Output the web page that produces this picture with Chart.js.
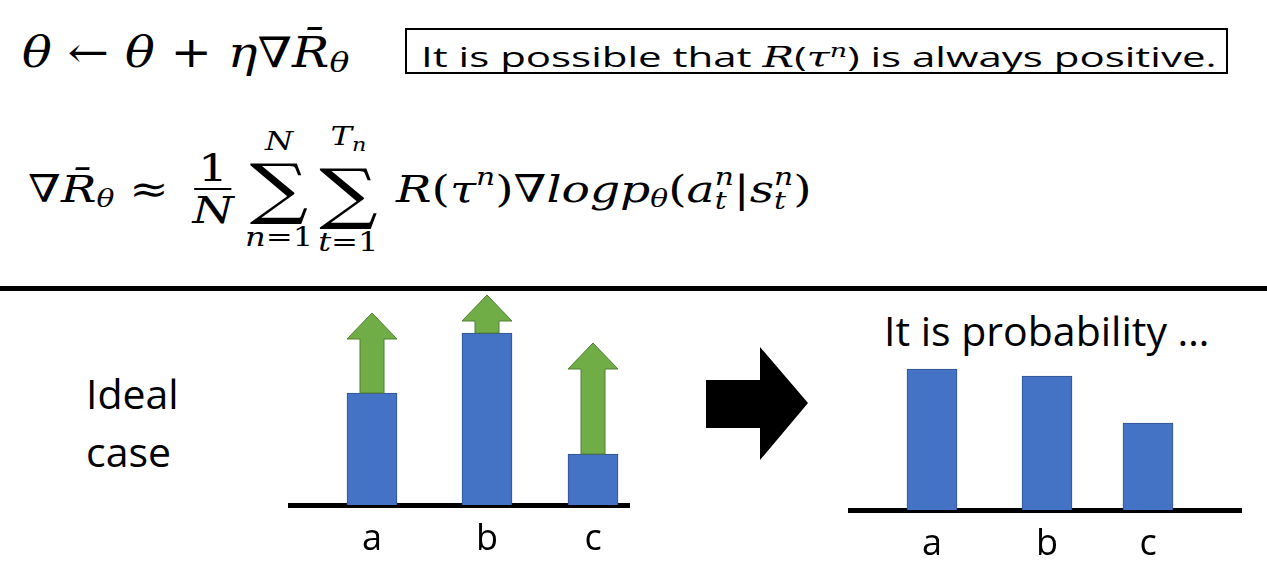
<!DOCTYPE html>
<html><head><meta charset="utf-8">
<script src="https://cdn.jsdelivr.net/npm/chart.js@4"></script>
<style>
body{margin:0;width:1267px;height:567px;background:#fff;position:relative;overflow:hidden;font-family:"Open Sans",sans-serif}
.m{font-family:"DejaVu Serif",serif;font-style:italic;position:absolute;white-space:nowrap;display:flex;align-items:center;transform-origin:left center}
.up{font-style:normal}
.sum{display:inline-flex;flex-direction:column;align-items:center;margin:0 2px}
.sum .s{font-size:66px;font-style:normal;line-height:64px}
.sum .l{font-size:26px;line-height:32px}
.frac{display:inline-flex;flex-direction:column;align-items:center;margin:0 4px}
.frac span{line-height:40px;padding:0 3px}
.frac .n{border-bottom:2px solid #000}
.box{position:absolute;left:405px;top:28px;width:819px;height:42px;border:2px solid #000}
.bt{position:absolute;left:14px;top:0;font-size:28px;line-height:42px;white-space:nowrap;transform:scaleX(1.5);transform-origin:left center}
.t{position:absolute;font-size:41px;color:#000}
canvas{position:absolute}
sub,sup{font-size:24px}
</style></head><body>
<div class="m" style="left:22px;top:24px;font-size:42px;height:56px;transform:scaleX(1.18)">θ&nbsp;<span class="up">←</span>&nbsp;θ&nbsp;<span class="up">+</span>&nbsp;η<span class="up">∇</span>R̄<sub style="font-size:28px;position:relative;top:10px">θ</sub></div>
<div class="box"><div class="bt">It is possible that <span style="font-family:'DejaVu Serif';font-style:italic">R</span>(<span style="font-family:'DejaVu Serif';font-style:italic">τ<sup style="font-size:18px">n</sup></span>) is always positive.</div></div>
<div class="m" style="left:28px;top:104px;font-size:38px;height:170px;transform:scaleX(1.24)"><span class="up">∇</span>R̄<sub style="position:relative;top:10px">θ</sub>&nbsp;<span class="up">≈</span>&nbsp;<span class="frac"><span class="n up">1</span><span>N</span></span><span class="sum"><span class="l">N</span><span class="s">∑</span><span class="l">n<span class="up">=1</span></span></span><span class="sum"><span class="l">T<sub style="font-size:18px">n</sub></span><span class="s">∑</span><span class="l">t<span class="up">=1</span></span></span>&nbsp;R<span class="up">(</span>τ<sup style="position:relative;top:-12px">n</sup><span class="up">)∇</span>logp<sub style="position:relative;top:10px">θ</sub><span class="up">(</span>a<span style="display:inline-flex;flex-direction:column;font-size:24px;line-height:24px"><span>n</span><span>t</span></span><span class="up">|</span>s<span style="display:inline-flex;flex-direction:column;font-size:24px;line-height:24px"><span>n</span><span>t</span></span><span class="up">)</span></div>
<div style="position:absolute;left:0;top:286px;width:1267px;height:5px;background:#000"></div>
<div class="t" style="left:86px;top:364px;line-height:58px">Ideal<br>case</div>
<div class="t" style="left:884px;top:302px">It is probability …</div>
<svg style="position:absolute;left:0;top:0" width="1267" height="567"><polygon points="706,380 760,380 760,347 808,403 760,460 760,428 706,428" fill="#000"/></svg>
<canvas id="c1" style="left:288px;top:294px" width="342" height="273"></canvas>
<canvas id="c2" style="left:848px;top:299px" width="394" height="268"></canvas>
<script>
const categories=["a","b","c"];
const idealValues=[112,172,51];
const idealArrows=[80,38,111];
const probValues=[141,134,87];
const leftX=[84,199,305];
const rightX=[84,199,300];
const arrowPlugin={id:'arrows',afterDatasetsDraw(ch){
 const ctx=ch.ctx,xs=ch.scales.x,ys=ch.scales.y;
 const arr=ch.options.plugins.arrows.values;
 ctx.save();ctx.fillStyle='#000';ctx.font='36px "Open Sans"';ctx.textAlign='center';ctx.textBaseline='middle';
 ch.data.datasets[0].data.forEach((d,i)=>ctx.fillText(categories[i],xs.getPixelForValue(d.x),ys.getPixelForValue(0)+35));
 ctx.restore();
 if(!arr)return;
 ch.data.datasets[0].data.forEach((d,i)=>{
  const cx=xs.getPixelForValue(d.x),y0=ys.getPixelForValue(d.y),y1=ys.getPixelForValue(d.y+arr[i]);
  const hw=12,HW=25,hh=26;
  ctx.beginPath();ctx.moveTo(cx-hw,y0);ctx.lineTo(cx-hw,y1+hh);ctx.lineTo(cx-HW,y1+hh);ctx.lineTo(cx,y1);
  ctx.lineTo(cx+HW,y1+hh);ctx.lineTo(cx+hw,y1+hh);ctx.lineTo(cx+hw,y0);ctx.closePath();
  ctx.fillStyle='#70AD47';ctx.fill();ctx.strokeStyle='#507E32';ctx.lineWidth=1;ctx.stroke();});
}};
function mk(id,xsv,vals,arrows,w,ymax,pb){
 new Chart(document.getElementById(id),{type:'bar',
 data:{datasets:[{data:vals.map((v,i)=>({x:xsv[i],y:v})),backgroundColor:'#4472C4',borderColor:'#2F528F',borderWidth:1,barThickness:50}]},
 options:{responsive:false,animation:false,layout:{padding:{left:0,right:0,top:0,bottom:pb}},
  plugins:{legend:{display:false},tooltip:{enabled:false},arrows:{values:arrows}},
  scales:{x:{type:'linear',min:0,max:w,bounds:'data',offset:false,grid:{display:false,drawTicks:false,offset:false},border:{color:'#000',width:5},
   ticks:{display:false}},
   y:{display:false,min:0,max:ymax}}},plugins:[arrowPlugin]});
}
mk('c1',leftX,idealValues,idealArrows,342,211,62);
mk('c2',rightX,probValues,null,394,211,57);
</script></body></html>
